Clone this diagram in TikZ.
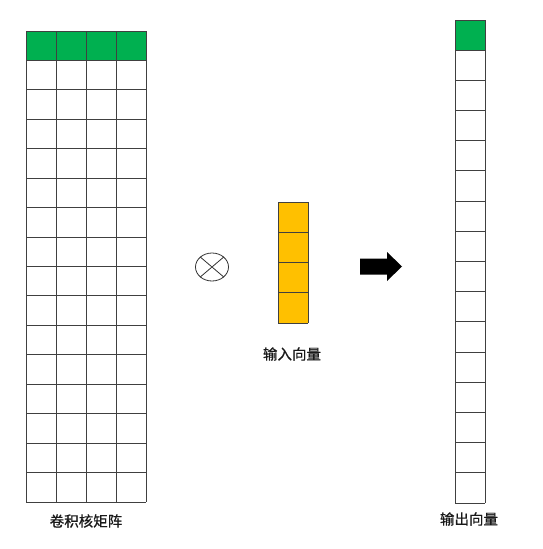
\documentclass[tikz,border=0pt]{standalone}
\usepackage{fontspec}
\newfontfamily\cjk[FakeBold=0.7]{Noto Sans CJK SC}
\usetikzlibrary{shapes.geometric}
\definecolor{cellgreen}{HTML}{00B050}
\definecolor{cellyellow}{HTML}{FFC000}
\definecolor{gridline}{HTML}{404040}
\begin{document}
\begin{tikzpicture}[x=1pt,y=-1pt,
  gridcell/.style={draw=gridline,line width=0.9pt},
  lbl/.style={font=\cjk\fontsize{14.5}{16}\selectfont,text=black!90,inner sep=0pt}]
\useasboundingbox (0,0) rectangle (543,549);
% kernel matrix: 4 columns x 16 rows, top row green
\fill[cellgreen] (26,31) rectangle (146,60.5);
\foreach \i in {0,...,4} \draw[gridcell] (26+30*\i,31) -- (26+30*\i,502);
\foreach \j in {0,...,16} \draw[gridcell] (26,31+29.4375*\j) -- (146,31+29.4375*\j);
% input vector
\fill[cellyellow] (278,202) rectangle (308,323);
\foreach \j in {0,...,4} \draw[gridcell] (278,202+30.25*\j) -- (308,202+30.25*\j);
\draw[gridcell] (278,202) -- (278,323) (308,202) -- (308,323);
% output vector
\fill[cellgreen] (455,20) rectangle (485,50.2);
\foreach \j in {0,...,16} \draw[gridcell] (455,20+30.1875*\j) -- (485,20+30.1875*\j);
\draw[gridcell] (455,20) -- (455,503) (485,20) -- (485,503);
% otimes
\node (ot) [draw=black!80,line width=0.8pt,ellipse,minimum width=33pt,minimum height=28pt,inner sep=0pt] at (212,267) {};
\draw[black!80,line width=0.8pt] (ot.north west) -- (ot.south east) (ot.north east) -- (ot.south west);
% block arrow
\fill[black] (360,258.5) -- (387,258.5) -- (387,252) -- (402,266.5) -- (387,281) -- (387,274.5) -- (360,274.5) -- cycle;
% labels
\node (l1) [lbl] at (86,521) {卷积核矩阵};
\node (l2) [lbl] at (292,354) {输入向量};
\node (l3) [lbl] at (469,519) {输出向量};
\end{tikzpicture}
\end{document}
